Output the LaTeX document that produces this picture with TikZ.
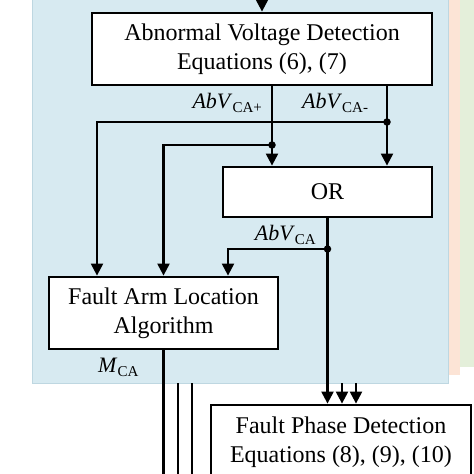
\documentclass[tikz,border=0pt]{standalone}
\usepackage{fontspec}
\setmainfont{Liberation Serif}
\usetikzlibrary{arrows.meta}
\definecolor{panelblue}{RGB}{215,234,241}
\definecolor{paneledge}{RGB}{190,215,225}
\definecolor{panelpink}{RGB}{252,228,214}
\definecolor{panelgreen}{RGB}{228,239,218}
\newcommand\sigl[2]{\textit{#1}\raisebox{-0.22em}{\fontsize{15}{15}\selectfont #2}}
\begin{document}
\begin{tikzpicture}[x=1pt,y=-1pt,
  box/.style={draw,line width=2.8pt,fill=white,align=center,inner sep=0pt,font=\fontsize{24}{29}\selectfont},
  conn/.style={line width=2.2pt},
  arr/.style={conn,-{Triangle[length=12pt,width=12pt]}},
  dot/.style={circle,fill=black,inner sep=0pt,minimum size=7.5pt},
  lab/.style={inner sep=0pt,font=\fontsize{22}{22}\selectfont}]
\useasboundingbox (0,0) rectangle (474,474);
% stacked panels
\fill[panelgreen] (60,-10) rectangle (476,367);
\fill[panelpink] (50,-10) rectangle (460,375);
\filldraw[fill=panelblue,draw=paneledge,line width=0.6pt] (32,-10) rectangle (448,383);
% boxes
\node[box,minimum width=340pt,minimum height=72pt] (avd) at (262,49) {Abnormal Voltage Detection\\Equations (6), (7)};
\node[box,minimum width=209pt,minimum height=50pt] (or) at (327.5,192) {OR};
\node[box,minimum width=229pt,minimum height=72pt] (fal) at (163.5,313) {Fault Arm Location\\Algorithm};
\node[box,minimum width=260pt,minimum height=74pt] (fpd) at (341,442) {Fault Phase Detection\\Equations (8), (9), (10)};
% coordinates
\coordinate (in) at (262,-5);
\coordinate (j1) at (272,145);
\coordinate (j2) at (387,122);
\coordinate (j3) at (327.5,249);
\coordinate (c2) at (97,0);
\coordinate (c3) at (228,0);
\coordinate (b1) at (163.5,480);
\coordinate (b2s) at (178,383);
\coordinate (b2e) at (178,480);
\coordinate (b3s) at (192,383);
\coordinate (b3e) at (192,480);
\coordinate (a2) at (342,383);
\coordinate (a3) at (356,383);
% connectors
\draw[arr] (in) -- (avd.north);
\draw[arr] (avd.south -| j1) -- (or.north -| j1);
\draw[arr] (j1) -| (fal.north);
\draw[arr] (avd.south -| j2) -- (or.north -| j2);
\draw[arr] (j2) -| (c2 |- fal.north);
\draw[arr] (or.south) -- (fpd.north -| or.south);
\draw[arr] (j3) -| (c3 |- fal.north);
\draw[conn] (fal.south) -- (b1);
\draw[conn] (b2s) -- (b2e);
\draw[conn] (b3s) -- (b3e);
\draw[arr] (a2) -- (fpd.north -| a2);
\draw[arr] (a3) -- (fpd.north -| a3);
\node[dot] at (j1) {};
\node[dot] at (j2) {};
\node[dot] at (j3) {};
% labels
\node[lab,anchor=base east] (lp) at (262,108) {\sigl{AbV}{CA+}};
\node[lab,anchor=base west] (lm) at (302,108) {\sigl{AbV}{CA-}};
\node[lab,anchor=base east] (lo) at (316,240) {\sigl{AbV}{CA}};
\node[lab,anchor=base west] (lmca) at (98,372) {\sigl{M}{CA}};
\end{tikzpicture}
\end{document}
